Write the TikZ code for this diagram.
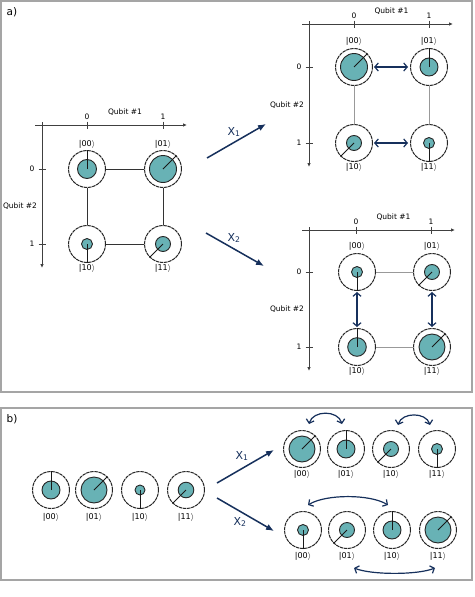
\documentclass[tikz,border=0pt]{standalone}
\usepackage{fontspec}
\setmainfont{DejaVu Sans}
\usetikzlibrary{positioning,calc,arrows.meta}

\definecolor{qteal}{RGB}{104,178,181}
\definecolor{qnavy}{RGB}{22,48,92}
\definecolor{qframe}{RGB}{165,165,165}

\tikzset{
    qring/.style={draw=black!85, circle, minimum size=37pt, inner sep=0pt, line width=1pt, dash pattern=on 3.5pt off 0.7pt},
    qdot/.style={draw=black!85, fill=qteal, line width=0.9pt},
    phase/.style={draw=black!90, line width=0.9pt},
    ket/.style={font=\fontsize{8}{9}\selectfont, inner sep=0.5pt},
    axislbl/.style={font=\fontsize{7.5}{8}\selectfont, inner sep=0.5pt},
    axis/.style={draw=black!75, line width=0.8pt, -{Latex[length=4pt,width=3.5pt]}},
    tick/.style={draw=black!75, line width=0.8pt},
    link/.style={draw=black!80, line width=0.8pt},
    glink/.style={draw=black!40, line width=1pt},
    qswap/.style={draw=qnavy, line width=1.2pt, {Straight Barb[length=3.5pt,width=8pt]}-{Straight Barb[length=3.5pt,width=8pt]}},
    gate/.style={draw=qnavy, line width=1.5pt, -{Latex[length=8pt,width=6.5pt]}},
    gatelbl/.style={text=qnavy, font=\fontsize{11}{12}\selectfont, inner sep=0pt},
    panelbox/.style={draw=qframe, line width=1.3pt},
    panellbl/.style={font=\fontsize{10.5}{12}\selectfont, inner sep=0pt},
}

% one basis state: name, position, inner radius, phase anchor, ket placement, ket
\newcommand{\qstate}[6]{%
    \node[qring] (#1) at (#2) {};
    \filldraw[qdot] (#1.center) circle (#3pt);
    \draw[phase] (#1.center) -- (#1.#4);
    \node[ket, #5 of #1] (#1k) {#6};
}

% qubit axes: prefix, axis x, axis y, ticks x0 x1, ticks y0 y1
\newcommand{\qaxes}[7]{%
    \draw[axis] (#2-7,#3) -- (#5+24,#3);
    \draw[axis] (#2,#3-3) -- (#2,#7+24);
    \foreach \tx/\v in {#4/0,#5/1} {
        \draw[tick] (\tx,#3-3.5) -- (\tx,#3+3.5);
        \node[axislbl] (#1x\v) at (\tx,#3-8) {\v};
    }
    \foreach \ty/\v in {#6/0,#7/1} {
        \draw[tick] (#2-3.5,\ty) -- (#2+3.5,\ty);
        \node[axislbl] (#1y\v) at (#2-10,\ty) {\v};
    }
    \node[axislbl] (#1q1) at ({(#4+#5)/2},#3-13) {Qubit \#1};
    \node[axislbl] (#1q2) at (#2-22,{(#6+#7)/2}) {Qubit \#2};
}

\begin{document}
\begin{tikzpicture}[x=1pt,y=-1pt]
    \path[fill=white, use as bounding box] (0,0) rectangle (474,597);

    % panel frames
    \draw[panelbox] (1,1) rectangle (472,392);
    \draw[panelbox] (1,408) rectangle (472,580);
    \node[panellbl] (pa) at (12,12) {a)};
    \node[panellbl] (pb) at (12,419) {b)};

    % a) initial state
    \qaxes{L}{42}{125}{87}{163}{169}{244}
    \qstate{L00}{87,169}{9.5}{90}{above=1pt}{|00$\rangle$}
    \qstate{L01}{163,169}{13.5}{45}{above=1pt}{|01$\rangle$}
    \qstate{L10}{87,244}{5.5}{270}{below=1pt}{|10$\rangle$}
    \qstate{L11}{163,244}{7.5}{225}{below=1pt}{|11$\rangle$}
    \draw[link] (L00) -- (L01);
    \draw[link] (L10) -- (L11);
    \draw[link] (L00) -- (L10);
    \draw[link] (L01) -- (L11);

    % a) gates
    \coordinate (g1s) at (207,158);
    \coordinate (g1e) at (266,124);
    \coordinate (g2s) at (206,233);
    \coordinate (g2e) at (264,266);
    \draw[gate] (g1s) -- (g1e);
    \draw[gate] (g2s) -- (g2e);
    \node[gatelbl] (X1a) at (234,132) {X\textsubscript{1}};
    \node[gatelbl] (X2a) at (234,238) {X\textsubscript{2}};

    % a) after X1
    \qaxes{T}{309}{24}{354}{429}{67}{143}
    \qstate{T00}{354,67}{13.5}{45}{above=1.5pt}{|00$\rangle$}
    \qstate{T01}{429,67}{9}{90}{above=1.5pt}{|01$\rangle$}
    \qstate{T10}{354,143}{7.5}{225}{below=1pt}{|10$\rangle$}
    \qstate{T11}{429,143}{5.5}{270}{below=1pt}{|11$\rangle$}
    \draw[glink] (T00) -- (T10);
    \draw[glink] (T01) -- (T11);
    \draw[qswap, shorten <=1pt, shorten >=2pt] (T00) -- (T01);
    \draw[qswap, shorten <=1pt, shorten >=2pt] (T10) -- (T11);

    % a) after X2
    \qaxes{B}{309}{230}{356}{431}{272}{347}
    \qstate{B00}{357,272}{5.5}{270}{above=1.5pt}{|00$\rangle$}
    \qstate{B01}{432,272}{7.5}{225}{above=1.5pt}{|01$\rangle$}
    \qstate{B10}{357,347}{9.3}{90}{below=1pt}{|10$\rangle$}
    \qstate{B11}{432,347}{13}{45}{below=1pt}{|11$\rangle$}
    \draw[glink] (B00) -- (B01);
    \draw[glink] (B10) -- (B11);
    \draw[qswap, shorten <=1pt, shorten >=1pt] (B00) -- (B10);
    \draw[qswap, shorten <=1pt, shorten >=1pt] (B01) -- (B11);

    % b) initial state
    \qstate{P00}{51,490}{9}{90}{below=4pt}{|00$\rangle$}
    \qstate{P01}{94,490}{13}{45}{below=4pt}{|01$\rangle$}
    \qstate{P10}{140,490}{5}{270}{below=4pt}{|10$\rangle$}
    \qstate{P11}{186,490}{7.8}{225}{below=4pt}{|11$\rangle$}

    % b) gates
    \coordinate (g3s) at (217,483);
    \coordinate (g3e) at (274,450);
    \coordinate (g4s) at (217,498);
    \coordinate (g4e) at (274,531);
    \draw[gate] (g3s) -- (g3e);
    \draw[gate] (g4s) -- (g4e);
    \node[gatelbl] (X1b) at (242,456) {X\textsubscript{1}};
    \node[gatelbl] (X2b) at (240,522) {X\textsubscript{2}};

    % b) after X1
    \qstate{Q00}{302,449}{13}{45}{below=2pt}{|00$\rangle$}
    \qstate{Q01}{346,449}{9}{90}{below=2pt}{|01$\rangle$}
    \qstate{Q10}{391,449}{7.5}{225}{below=2pt}{|10$\rangle$}
    \qstate{Q11}{437,449}{5.5}{270}{below=2pt}{|11$\rangle$}
    \draw[qswap] ($(Q00.north)+(7,-6)$) .. controls +(4,-14) and +(-4,-14) .. ($(Q01.north)+(-4,-6)$);
    \draw[qswap] ($(Q10.north)+(7,-5)$) .. controls +(4,-13) and +(-4,-13) .. ($(Q11.north)+(-7,-5)$);

    % b) after X2
    \qstate{R00}{303,530}{5.5}{270}{below=2.5pt}{|00$\rangle$}
    \qstate{R01}{347,530}{7.5}{225}{below=2.5pt}{|01$\rangle$}
    \qstate{R10}{392,530}{9}{90}{below=2.5pt}{|10$\rangle$}
    \qstate{R11}{438,530}{13}{45}{below=2.5pt}{|11$\rangle$}
    \draw[qswap] ($(R00.north)+(5,-6)$) .. controls +(18,-11) and +(-18,-11) .. ($(R10.north)+(-4,-6)$);
    \draw[qswap] ($(R01k.south)+(7,7)$) .. controls +(18,7) and +(-18,7) .. ($(R11k.south)+(-3,7)$);
\end{tikzpicture}
\end{document}
